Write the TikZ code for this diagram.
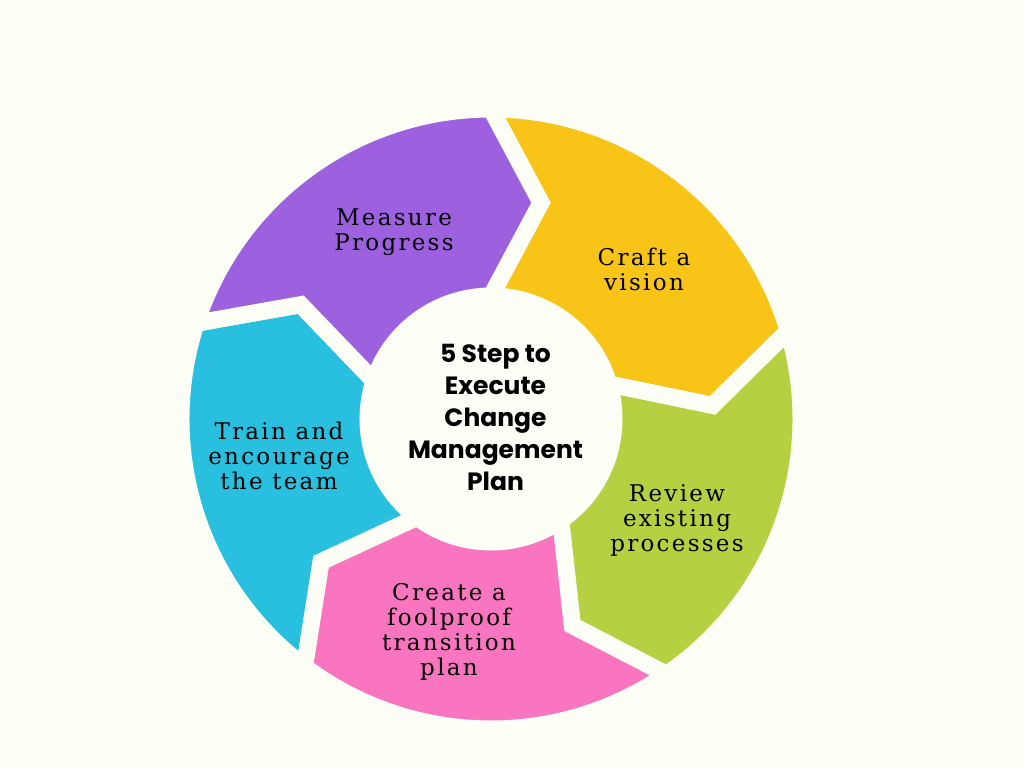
\documentclass[tikz,border=0pt]{standalone}
\usepackage{fontspec}
\newfontfamily\stepfont[LetterSpace=10]{DejaVu Serif}
\newfontfamily\titlefont{Poppins}
\definecolor{bg}{HTML}{FDFEF5}
\definecolor{purpleseg}{HTML}{9D61E0}
\definecolor{yellowseg}{HTML}{F8C418}
\definecolor{greenseg}{HTML}{B5D142}
\definecolor{pinkseg}{HTML}{F975C0}
\definecolor{blueseg}{HTML}{29C0DF}

\begin{document}
\begin{tikzpicture}[x=1pt,y=1pt,
  seg/.style={fill=#1,draw=bg,line width=17pt,line join=miter},
  step_node/.style={align=center,text=black,font=\stepfont\fontsize{23}{25}\selectfont},
  title_node/.style={align=center,text=black,font=\titlefont\bfseries\fontsize{25}{32}\selectfont}]

    \fill[bg] (-491,-349) rectangle (533,419);
    \useasboundingbox (-491,-349) rectangle (533,419);

    % ring of arrows, clockwise
    \foreach \col/\a/\b in {yellowseg/90/16.5, greenseg/16.5/-55.5, pinkseg/-55.5/-127, blueseg/-127/-198, purpleseg/162/90}
      \filldraw[seg=\col] (\a:310) arc[start angle=\a, end angle=\b, radius=310]
        -- ({\b-13}:222) -- (\b:123)
        arc[start angle=\b, end angle=\a, radius=123]
        -- ({\a-13}:222) -- cycle;

    \node[title_node] (title) at (4.5,2) {5 Step to\\Execute\\Change\\Management\\Plan};

    \node[step_node] (measure) at (-97,187) {Measure\\Progress};
    \node[step_node] (vision) at (153,150) {Craft a\\vision};
    \node[step_node] (review) at (186,-101) {Review\\existing\\processes};
    \node[step_node] (plan) at (-42,-213) {Create a\\foolproof\\transition\\plan};
    \node[step_node] (team) at (-212,-37) {Train and\\encourage\\the team};
\end{tikzpicture}
\end{document}
